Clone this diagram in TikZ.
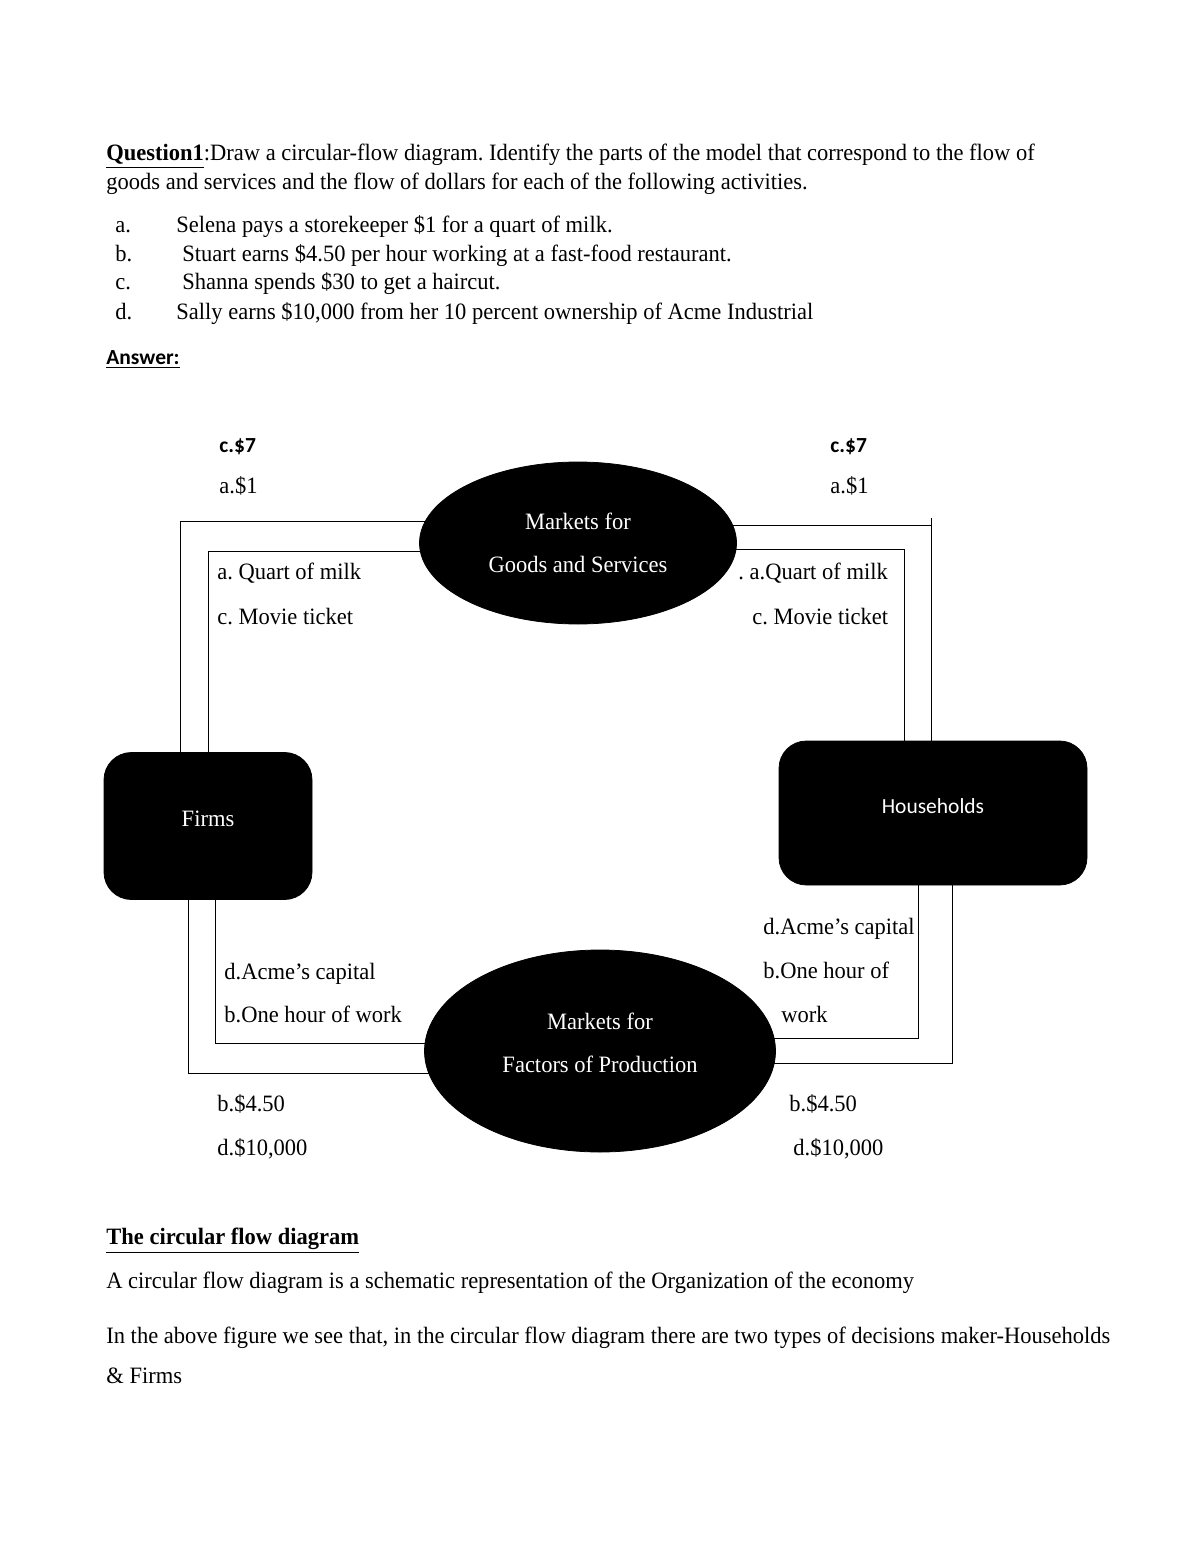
\documentclass[tikz,border=0pt]{standalone}
\usepackage{fontspec}
\setmainfont[FakeStretch=0.96]{Liberation Serif}
\setsansfont{Carlito}
\usetikzlibrary{shapes.geometric}
\usetikzlibrary{backgrounds}
\frenchspacing

\tikzset{
    market/.style={ellipse,fill=black,draw=black,text=white,align=center,inner sep=0pt,font=\fontsize{12}{14}\selectfont},
    agent/.style={rectangle,rounded corners=14pt,fill=black,draw=black,text=white,inner sep=0pt,font=\fontsize{12}{14}\selectfont},
    flow/.style={line width=0.6pt},
    txt/.style={anchor=base west,inner sep=0pt,font=\fontsize{12}{14}\selectfont},
}

\begin{document}
\begin{tikzpicture}[x=0.0179917cm,y=-0.0179917cm]%
    \useasboundingbox (0,0) rectangle (1200,1553);
    % question
    \node[txt] (q1) at (106,161) {\textbf{\underline{Question1}}:Draw a circular-flow diagram. Identify the parts of the model that correspond to the flow of};
    \node[txt] (q2) at (106,190) {goods and services and the flow of dollars for each of the following activities.};
    \node[txt] (ia) at (115,233) {a.};
    \node[txt] (ta) at (176,233) {Selena pays a storekeeper \$1 for a quart of milk.};
    \node[txt] (ib) at (115,262) {b.};
    \node[txt] (tb) at (182,262) {Stuart earns \$4.50 per hour working at a fast-food restaurant.};
    \node[txt] (ic) at (115,290) {c.};
    \node[txt] (tc) at (182,290) {Shanna spends \$30 to get a haircut.};
    \node[txt] (id) at (115,320) {d.};
    \node[txt] (td) at (176,320) {Sally earns \$10,000 from her 10 percent ownership of Acme Industrial};
    \node[txt,font=\sffamily\bfseries\fontsize{11}{13}\selectfont] (ans) at (106,364) {\underline{Answer:}};

    % the circular flow
    \node[market,minimum width=317*0.0179917cm,minimum height=162*0.0179917cm] (goods) at (578,543)
        {Markets for\\[8pt] Goods and Services};
    \node[market,minimum width=351*0.0179917cm,minimum height=202*0.0179917cm] (factors) at (600,1051) {};
    \node[market,fill=none,draw=none,yshift=4pt] (factorsT) at (factors.center)
        {Markets for\\[8pt] Factors of Production};
    \node[agent,minimum width=208*0.0179917cm,minimum height=147*0.0179917cm] (firms) at (208,826)
        {\raisebox{7pt}{Firms}};
    \node[agent,minimum width=308*0.0179917cm,minimum height=144*0.0179917cm,font=\sffamily\fontsize{11}{13}\selectfont] (house) at (933,813)
        {\raisebox{7pt}{Households}};

    \coordinate (oTL) at (180,521);
    \coordinate (iTL) at (208,551);
    \coordinate (oTR) at (931,525);
    \coordinate (iTR) at (904,549);
    \coordinate (iBL) at (215,1043);
    \coordinate (oBL) at (188,1073);
    \coordinate (iBR) at (918,1038);
    \coordinate (oBR) at (952,1063);
    \begin{scope}[on background layer,flow]
        \draw (oTL |- firms.north) -- (oTL) -- (oTL -| goods.center);
        \draw (iTL |- firms.north) -- (iTL) -- (iTL -| goods.center);
        \draw (goods.center |- oTR) -- (oTR) -- (oTR |- house.north);
        \draw (oTR) -- (931,518);
        \draw (goods.center |- iTR) -- (iTR) -- (iTR |- house.north);
        \draw (iBL |- firms.south) -- (iBL) -- (iBL -| factors.center);
        \draw (oBL |- firms.south) -- (oBL) -- (oBL -| factors.center);
        \draw (iBR |- house.south) -- (iBR) -- (iBR -| factors.center);
        \draw (oBR |- house.south) -- (oBR) -- (oBR -| factors.center);
    \end{scope}

    % flow labels
    \node[txt,font=\sffamily\bfseries\fontsize{11}{13}\selectfont] (c7l) at (219,452) {c.\$7};
    \node[txt] (a1l) at (219,493) {a.\$1};
    \node[txt,font=\sffamily\bfseries\fontsize{11}{13}\selectfont] (c7r) at (830,452) {c.\$7};
    \node[txt] (a1r) at (830,493) {a.\$1};
    \node[txt] (milkl) at (217,579) {a. Quart of milk};
    \node[txt] (moviel) at (217,624) {c. Movie ticket};
    \node[txt] (milkr) at (738,579) {. a.Quart of milk};
    \node[txt] (movier) at (752,624) {c. Movie ticket};
    \node[txt] (acmer) at (763,934) {d.Acme’s capital};
    \node[txt] (hourr) at (763,978) {b.One hour of};
    \node[txt] (workr) at (781,1022) {work};
    \node[txt] (acmel) at (224,979) {d.Acme’s capital};
    \node[txt] (hourl) at (224,1022) {b.One hour of work};
    \node[txt] (wagel) at (217,1111) {b.\$4.50};
    \node[txt] (rentl) at (217,1155) {d.\$10,000};
    \node[txt] (wager) at (789,1111) {b.\$4.50};
    \node[txt] (rentr) at (793,1155) {d.\$10,000};

    % text below
    \node[txt] (h2) at (106,1244) {\textbf{\underline{The circular flow diagram}}};
    \node[txt] (p1) at (106,1288) {A circular flow diagram is a schematic representation of the Organization of the economy};
    \node[txt] (p2) at (106,1343) {In the above figure we see that, in the circular flow diagram there are two types of decisions maker-Households};
    \node[txt] (p3) at (106,1383) {\& Firms};
\end{tikzpicture}
\end{document}
